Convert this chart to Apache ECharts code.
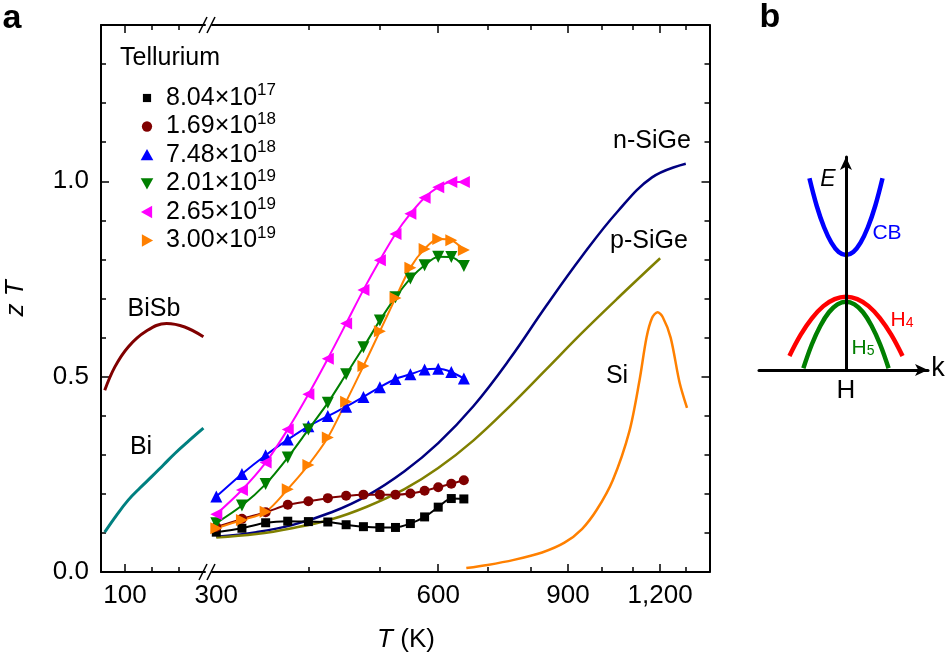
<!DOCTYPE html>
<html>
<head>
<meta charset="utf-8">
<script src="https://cdn.jsdelivr.net/npm/echarts@6/dist/echarts.min.js"></script>
<style>
  html, body { margin: 0; padding: 0; background: #fff; }
  #chart { width: 946px; height: 657px; }
</style>
</head>
<body>
<div id="chart"></div>
<script>
// ---- data (panel a) ----
const teTemps = [300, 325, 350, 375, 400, 425, 450, 475, 500, 525, 550, 575, 600, 625, 650];
const te804e17 = [0.102, 0.112, 0.126, 0.130, 0.129, 0.128, 0.121, 0.116, 0.114, 0.114, 0.124, 0.141, 0.166, 0.188, 0.187];
const te169e18 = [0.115, 0.136, 0.153, 0.172, 0.181, 0.189, 0.195, 0.198, 0.198, 0.198, 0.201, 0.208, 0.217, 0.226, 0.235];
const te748e18 = [0.193, 0.251, 0.299, 0.339, 0.373, 0.399, 0.423, 0.448, 0.473, 0.494, 0.506, 0.518, 0.520, 0.512, 0.495];
const te201e19 = [0.125, 0.170, 0.225, 0.293, 0.365, 0.433, 0.506, 0.575, 0.644, 0.703, 0.751, 0.785, 0.807, 0.806, 0.783];
const te265e19 = [0.148, 0.210, 0.280, 0.365, 0.455, 0.546, 0.636, 0.722, 0.798, 0.865, 0.917, 0.958, 0.985, 0.998, 0.998];
const te300e19 = [0.112, 0.133, 0.154, 0.212, 0.274, 0.344, 0.436, 0.527, 0.616, 0.701, 0.779, 0.827, 0.852, 0.849, 0.824];
const teNames = ['8.04×10^17', '1.69×10^18', '7.48×10^18', '2.01×10^19', '2.65×10^19', '3.00×10^19'];

const nSiGeT = [300, 340, 380, 430, 480, 540, 600, 670, 750, 840, 940, 1050, 1170, 1300];
const nSiGeZ = [0.09, 0.102, 0.12, 0.153, 0.195, 0.258, 0.33, 0.425, 0.545, 0.68, 0.808, 0.922, 1.01, 1.045];
const pSiGeT = [300, 340, 380, 430, 480, 540, 600, 670, 750, 840, 940, 1050, 1200];
const pSiGeZ = [0.088, 0.097, 0.112, 0.135, 0.167, 0.212, 0.266, 0.337, 0.424, 0.518, 0.612, 0.70, 0.803];
const siT = [655, 700, 760, 830, 890, 940, 985, 1035, 1090, 1125, 1150, 1170, 1190, 1210, 1240, 1275, 1305];
const siZ = [0.01, 0.018, 0.031, 0.05, 0.075, 0.11, 0.16, 0.235, 0.36, 0.49, 0.60, 0.65, 0.665, 0.652, 0.6, 0.485, 0.42];
const biSbT = [62, 81, 106, 138, 178, 212, 247];
const biSbZ = [0.465, 0.525, 0.576, 0.615, 0.636, 0.627, 0.602];
const biT = [62, 84, 106, 128, 150, 172, 194, 220, 247];
const biZ = [0.102, 0.145, 0.184, 0.215, 0.244, 0.274, 0.304, 0.336, 0.368];

// tick values
const lowMajor = [100], lowMinor = [150, 200], lowLabels = [100];
const highMajor = [600, 900, 1200], highMinor = [400, 500, 700, 800, 1000, 1100, 1300];
const highLabels = [300, 600, 900, 1200];
const yMajor = [0.5, 1.0], yMinor = [0.1, 0.2, 0.3, 0.4, 0.6, 0.7, 0.8, 0.9, 1.1, 1.2, 1.3], yLabels = [0, 0.5, 1.0];

// ---- data (panel b, schematic bands) ----
const cbK = [-0.42, -0.336, -0.252, -0.168, -0.084, 0, 0.084, 0.168, 0.252, 0.336, 0.42];
const cbE = [0.90, 0.770, 0.670, 0.598, 0.554, 0.54, 0.554, 0.598, 0.670, 0.770, 0.90];
const h4K = [-0.65, -0.52, -0.39, -0.26, -0.13, 0, 0.13, 0.26, 0.39, 0.52, 0.65];
const h4E = [0.066, 0.166, 0.244, 0.300, 0.333, 0.344, 0.333, 0.300, 0.244, 0.166, 0.066];
const h5K = [-0.49, -0.392, -0.294, -0.196, -0.098, 0, 0.098, 0.196, 0.294, 0.392, 0.49];
const h5E = [0.008, 0.121, 0.208, 0.271, 0.308, 0.321, 0.308, 0.271, 0.208, 0.121, 0.008];

const FONT = '"Liberation Sans", Arial, Helvetica, sans-serif';
const L = Math.log10;
const chart = echarts.init(document.getElementById('chart'));

const teValues = [te804e17, te169e18, te748e18, te201e19, te265e19, te300e19];
const teColors = ['#000000', '#800000', '#0000ff', '#007f00', '#ff00ff', '#ff8000'];
const teSymbols = ['rect', 'circle', 'triangle', 'path://M0,0L10,0L5,9Z', 'path://M0,5L9,0L9,10Z', 'path://M9,5L0,0L0,10Z'];
const teSizes = [9, 10, 12, 12, 12, 12];
// 图例图标：用 M0,0M12,12 撑开包围盒，图标大小不一
const teIcons = [
  'path://M0,0M12,12M2.5,2.5H9.5V9.5H2.5Z',
  'path://M0,0M12,12M1.6,6A4.4,4.4,0,1,1,10.4,6A4.4,4.4,0,1,1,1.6,6Z',
  'path://M0,0M12,12M6,0.8L11.4,10.4L0.6,10.4Z',
  'path://M0,0M12,12M6,11.2L11.4,1.6L0.6,1.6Z',
  'path://M0,0M12,12M0.8,6L10.4,0.6L10.4,11.4Z',
  'path://M0,0M12,12M11.2,6L1.6,0.6L1.6,11.4Z'
];

const lowMin = 55, lowMax = 250;
const highMin = L(296), highMax = L(1400);

function fmtT(v) {
  const t = Math.round(Math.pow(10, v));
  return t >= 1000 ? t.toLocaleString('en-US') : String(t);
}

function xAx(gridIndex, position, min, max, ticks, len, withLine, labels, fmt) {
  return {
    type: 'value', gridIndex, position, min, max,
    axisLine: { show: withLine, onZero: false, lineStyle: { color: '#000', width: 2 } },
    axisTick: { show: true, inside: true, length: len, customValues: ticks, lineStyle: { color: '#000', width: 1.5 } },
    axisLabel: labels
      ? { show: true, customValues: labels, formatter: fmt, margin: 11, color: '#000', fontSize: 26, fontFamily: FONT }
      : { show: false },
    splitLine: { show: false }
  };
}

function yAx(gridIndex, position, ticks, len, withLine, labels) {
  return {
    type: 'value', gridIndex, position, min: 0, max: 1.4,
    axisLine: { show: withLine, onZero: false, lineStyle: { color: '#000', width: 2 } },
    axisTick: { show: true, inside: true, length: len, customValues: ticks, lineStyle: { color: '#000', width: 1.5 } },
    axisLabel: labels
      ? { show: true, customValues: labels, formatter: v => v.toFixed(1), margin: 12, color: '#000', fontSize: 26, fontFamily: FONT }
      : { show: false },
    splitLine: { show: false }
  };
}

const lowPts = (ts, zs) => ts.map((t, i) => [t, zs[i]]);
const highPts = (ts, zs) => ts.map((t, i) => [L(t), zs[i]]);

function curve(name, data, color, width, xi, yi, smooth) {
  return {
    name, type: 'line', xAxisIndex: xi, yAxisIndex: yi, data,
    smooth: smooth || 0.4,
    symbol: 'none', clip: false, lineStyle: { color, width }, itemStyle: { color }, z: 2
  };
}

const series = [
  curve('BiSb', lowPts(biSbT, biSbZ), '#800000', 3, 0, 0),
  curve('Bi', lowPts(biT, biZ), '#008080', 3, 0, 0),
  curve('n-SiGe', highPts(nSiGeT, nSiGeZ), '#000080', 2.5, 4, 2),
  curve('p-SiGe', highPts(pSiGeT, pSiGeZ), '#808000', 2.5, 4, 2),
  curve('Si', highPts(siT, siZ), '#ff8000', 2.5, 4, 2, 0.3),
  curve('CB', cbK.map((k, i) => [k, cbE[i]]), '#0000ff', 4.5, 8, 4),
  curve('H4', h4K.map((k, i) => [k, h4E[i]]), '#ff0000', 4.5, 8, 4),
  curve('H5', h5K.map((k, i) => [k, h5E[i]]), '#007f00', 4.5, 8, 4)
];

teNames.forEach((name, k) => {
  series.push({
    name, type: 'line', xAxisIndex: 4, yAxisIndex: 2,
    data: highPts(teTemps, teValues[k]),
    smooth: 0.3, symbol: teSymbols[k], symbolSize: teSizes[k],
    clip: false, z: 3,
    itemStyle: { color: teColors[k] },
    lineStyle: { color: teColors[k], width: 2 }
  });
});

const textStyleBase = { fill: '#000', font: '25px ' + FONT, align: 'center', verticalAlign: 'middle' };
function label(text, x, y, extra) {
  return { type: 'text', x, y, style: Object.assign({}, textStyleBase, { text }, extra || {}) };
}
function slash(x1, y1, x2, y2) {
  return { type: 'line', shape: { x1, y1, x2, y2 }, style: { stroke: '#000', lineWidth: 1.5 } };
}

const option = {
  animation: false,
  backgroundColor: '#fff',
  grid: [
    { left: 101, top: 25, width: 104, height: 547 },
    { left: 212, top: 25, width: 497.5, height: 547 },
    { left: 759, top: 157, width: 169, height: 213 }
  ],
  xAxis: [
    xAx(0, 'bottom', lowMin, lowMax, lowMajor, 8, true, lowLabels, v => String(v)),
    xAx(0, 'bottom', lowMin, lowMax, lowMinor, 5, false, null),
    xAx(0, 'top', lowMin, lowMax, lowMajor, 8, true, null),
    xAx(0, 'top', lowMin, lowMax, lowMinor, 5, false, null),
    xAx(1, 'bottom', highMin, highMax, highMajor.map(L), 8, true, highLabels.map(L), fmtT),
    xAx(1, 'bottom', highMin, highMax, highMinor.map(L), 5, false, null),
    xAx(1, 'top', highMin, highMax, highMajor.map(L), 8, true, null),
    xAx(1, 'top', highMin, highMax, highMinor.map(L), 5, false, null),
    {
      type: 'value', gridIndex: 2, min: -1, max: 0.943,
      axisLine: { show: true, onZero: true, symbol: ['none', 'arrow'], symbolSize: [9, 13], lineStyle: { color: '#000', width: 3 } },
      axisTick: { show: false },
      axisLabel: { show: true, customValues: [0], formatter: () => 'H', margin: 8, color: '#000', fontSize: 26, fontFamily: FONT },
      splitLine: { show: false }
    }
  ],
  yAxis: [
    Object.assign(yAx(0, 'left', yMinor, 5, true, yLabels), {
      name: 'z T', nameLocation: 'middle', nameGap: 72, nameRotate: 90,
      nameTextStyle: { fontSize: 26, fontStyle: 'italic', fontFamily: FONT, color: '#000' }
    }),
    yAx(0, 'left', yMajor, 8, false, null),
    yAx(1, 'right', yMinor, 5, true, null),
    yAx(1, 'right', yMajor, 8, false, null),
    {
      type: 'value', gridIndex: 2, min: 0, max: 1, z: 5,
      axisLine: { show: true, onZero: true, symbol: ['none', 'arrow'], symbolSize: [9, 13], lineStyle: { color: '#000', width: 3 } },
      axisTick: { show: false }, axisLabel: { show: false }, splitLine: { show: false }
    }
  ],
  legend: {
    data: teNames.map((name, k) => ({ name, icon: teIcons[k] })),
    orient: 'vertical', left: 135, top: 77, itemWidth: 28, itemHeight: 14, itemGap: 0,
    symbolKeepAspect: true, selectedMode: false,
    formatter: name => {
      const parts = name.split('^');
      return '{m|' + parts[0] + '}{e|' + parts[1] + '}';
    },
    textStyle: {
      color: '#000', fontFamily: FONT, fontSize: 25,
      rich: {
        m: { fontSize: 25, lineHeight: 32, fontFamily: FONT, color: '#000' },
        e: { fontSize: 17, lineHeight: 17, verticalAlign: 'top', fontFamily: FONT, color: '#000' }
      }
    }
  },
  graphic: [
    label('a', 12, 19, { font: 'bold 34px ' + FONT }),
    label('b', 770, 18, { font: 'bold 34px ' + FONT }),
    label('Tellurium', 120, 58, { align: 'left' }),
    label('BiSb', 154, 309),
    label('Bi', 141, 447),
    label('n-SiGe', 652, 141),
    label('p-SiGe', 649, 241),
    label('Si', 617, 376),
    label('{i|T} (K)', 406, 640, { font: '26px ' + FONT, rich: { i: { fontStyle: 'italic', fontSize: 26, fontFamily: FONT } } }),
    // axis breaks
    slash(199, 580, 207, 564), slash(207, 580, 215, 564),
    slash(199, 33, 207, 17), slash(207, 33, 215, 17),
    // panel b labels
    label('E', 828, 180, { font: 'italic 23px ' + FONT }),
    label('CB', 887, 233, { font: '21px ' + FONT, fill: '#0000ff' }),
    label('H{s|4}', 902, 320, { font: '21px ' + FONT, fill: '#ff0000', rich: { s: { fontSize: 14, verticalAlign: 'bottom', fill: '#ff0000' } } }),
    label('H{s|5}', 863, 348, { font: '21px ' + FONT, fill: '#007f00', rich: { s: { fontSize: 14, verticalAlign: 'bottom', fill: '#007f00' } } }),
    label('k', 938, 369, { font: '27px ' + FONT })
  ],
  series
};

chart.setOption(option);
</script>
</body>
</html>
